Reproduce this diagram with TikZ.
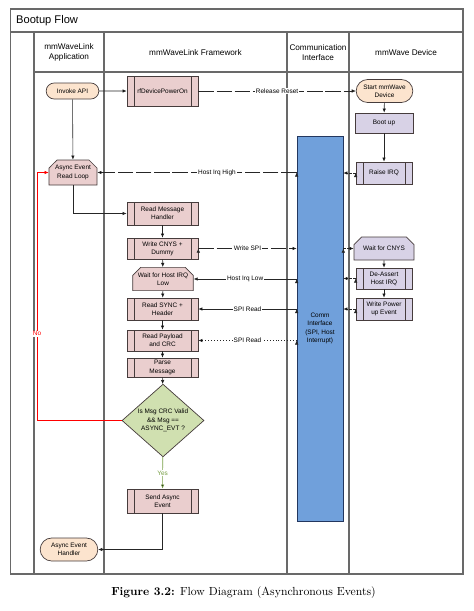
\documentclass[tikz,border=0pt]{standalone}
\usepackage{fontspec}
\newfontfamily\arialfont{Liberation Sans}
\usetikzlibrary{shapes,arrows.meta}

\definecolor{procfill}{RGB}{234,206,206}
\definecolor{startfill}{RGB}{252,228,206}
\definecolor{devfill}{RGB}{216,210,230}
\definecolor{commfill}{RGB}{112,160,219}
\definecolor{commline}{RGB}{35,55,95}
\definecolor{decfill}{RGB}{208,224,176}
\definecolor{boxline}{RGB}{70,60,60}
\definecolor{laneline}{RGB}{105,105,105}
\definecolor{yesgreen}{RGB}{120,160,70}

\tikzset{
  lane/.style={draw=laneline,line width=1pt},
  boxtext/.style={font=\arialfont\fontsize{5.5}{7}\selectfont,align=center,inner sep=1pt},
  headtext/.style={font=\arialfont\fontsize{7}{8.5}\selectfont,align=center},
  lbl/.style={font=\arialfont\fontsize{5.5}{7}\selectfont,fill=white,inner sep=0.8pt},
  subbox/.style={boxtext,shape=rectangle,draw=boxline,fill=#1,line width=0.6pt,minimum width=2.13cm,
    path picture={\draw[boxline,line width=0.6pt]
      ([xshift=0.21cm]path picture bounding box.south west) -- ([xshift=0.21cm]path picture bounding box.north west)
      ([xshift=-0.21cm]path picture bounding box.south east) -- ([xshift=-0.21cm]path picture bounding box.north east);}},
  subbox/.default=procfill,
  devbox/.style={boxtext,shape=rectangle,draw=boxline,fill=devfill,line width=0.6pt},
  startbox/.style={boxtext,shape=rounded rectangle,draw=boxline,fill=startfill,line width=0.6pt},
  loopbox/.style={boxtext,shape=chamfered rectangle,chamfered rectangle corners={north west,north east},
    chamfered rectangle xsep=0.12cm,chamfered rectangle ysep=0.12cm,draw=boxline,fill=#1,line width=0.6pt},
  decision/.style={boxtext,shape=diamond,draw=boxline,fill=decfill,line width=0.6pt,inner sep=0pt,
    minimum width=2.46cm,minimum height=1.95cm},
  commbox/.style={boxtext,shape=rectangle,draw=commline,fill=commfill,line width=0.6pt,
    minimum width=1.38cm,minimum height=11.55cm},
  conn/.style={-{Latex[length=3.5pt,width=3pt]},draw=black!85,line width=0.5pt},
  longdash/.style={dash pattern=on 13pt off 2.5pt},
  shortdash/.style={dash pattern=on 2pt off 1.5pt}
}

\begin{document}
\begin{tikzpicture}[x=0.03cm,y=-0.03cm]
\useasboundingbox (0,0) rectangle (474,611);
% swimlanes
\draw[lane] (10.5,9) rectangle (463,574);
\draw[lane] (10.5,32) -- (463,32);
\draw[lane] (34,72) -- (463,72);
\foreach \x in {34,104,287,349} \draw[lane] (\x,32) -- (\x,574);

\node[font=\arialfont\fontsize{9.5}{11}\selectfont,anchor=west] (19) at (12,21) {Bootup Flow};
\node[headtext] (20) at (69,52.5) {mmWaveLink\\Application};
\node[headtext] (21) at (195.5,52.5) {mmWaveLink Framework};
\node[headtext] (22) at (318,52.5) {Communication\\Interface};
\node[headtext] (23) at (406,52.5) {mmWave Device};

\node[startbox,minimum width=1.65cm,minimum height=0.48cm] (0) at (72.5,91) {Invoke API};
\node[subbox,minimum height=0.9cm] (1) at (162.5,91) {rfDevicePowerOn};
\node[startbox,minimum width=1.77cm,minimum height=0.69cm] (2) at (384.5,91) {Start mmWave\\Device};
\node[devbox,minimum width=1.74cm,minimum height=0.6cm] (3) at (384,123) {Boot up};
\node[subbox=devfill,minimum width=1.68cm,minimum height=0.66cm] (4) at (384,173) {Raise IRQ};
\node[loopbox=procfill,minimum width=1.44cm,minimum height=0.75cm] (5) at (73,172.5) {Async Event\\Read Loop};
\node[subbox,minimum height=0.69cm] (6) at (162.5,213.5) {Read Message\\Handler};
\node[subbox,minimum height=0.63cm] (7) at (162.5,248.5) {Write CNYS +\\Dummy};
\node[loopbox=procfill,minimum width=1.8cm,minimum height=0.54cm] (8) at (163,279) {Wait for Host IRQ\\Low};
\node[subbox,minimum height=0.66cm] (9) at (162.5,309) {Read SYNC +\\Header};
\node[subbox,minimum height=0.63cm] (10) at (162.5,340.5) {Read Payload\\and CRC};
\node[subbox,minimum height=0.57cm] (11) at (162.5,367.5) {Parse\\Message};
\node[decision] (12) at (163,420.5) {Is Msg CRC Valid\\\&\& Msg ==\\ASYNC\_EVT ?};
\node[subbox,minimum height=0.72cm] (13) at (162.5,501) {Send Async\\Event};
\node[startbox,minimum width=1.8cm,minimum height=0.69cm] (14) at (69,549.5) {Async Event\\Handler};
\node[loopbox=devfill,minimum width=1.8cm,minimum height=0.69cm] (15) at (384,248.5) {Wait for CNYS};
\node[subbox=devfill,minimum width=1.68cm,minimum height=0.63cm] (16) at (384,278.5) {De-Assert\\Host IRQ};
\node[subbox=devfill,minimum width=1.68cm,minimum height=0.66cm] (17) at (384,309) {Write Power\\up Event};
\node[commbox] (18) at (320,328.5) {Comm\\Interface\\(SPI, Host\\Interrupt)};
\coordinate (25) at (37,300);

\node (24) at (243.5,593) {\textbf{Figure 3.2:} Flow Diagram (Asynchronous Events)};

\path [conn] (0) edge (1);
\path [conn,longdash] (1) edge node[lbl] {Release Reset} (2);
\path [conn] (2) edge (3);
\path [conn] (3) edge (4);
\path [conn,shortdash] (4.west) edge (4.west -| 18.east);
\path [conn,longdash] (5.east -| 18.west) edge node[lbl,pos=0.4] {Host Irq High} (5.east);
\path [conn] (0) edge (5);
\draw [conn] (5) |- (6);
\path [conn] (6) edge (7);
\path [conn] (7) edge (8);
\path [conn] (8) edge (9);
\path [conn] (9) edge (10);
\path [conn] (10) edge (11);
\path [conn] (11) edge (12);
\path [conn,longdash] (7.east) edge node[lbl] {Write SPI} (7.east -| 18.west);
\path [conn,shortdash] (15.west -| 18.east) edge (15.west);
\path [conn] (15) edge (16);
\path [conn] (16) edge (17);
\path [conn,shortdash] (16.west) edge (16.west -| 18.east);
\path [conn] (8.east -| 18.west) edge node[lbl] {Host Irq Low} (8.east);
\path [conn,shortdash] (17.west) edge (17.west -| 18.east);
\path [conn] (9.east -| 18.west) edge node[lbl] {SPI Read} (9.east);
\path [conn,dotted] (10.east -| 18.west) edge node[lbl] {SPI Read} (10.east);
\draw [conn,draw=red] (12.west) -- (12.west -| 25) -- node[lbl,text=red,pos=0.35] {No} (25 |- 5.west) -- (5.west);
\path [conn,draw=yesgreen] (12) edge node[lbl,text=yesgreen] {Yes} (13);
\draw [conn] (13) |- (14);
\end{tikzpicture}
\end{document}
